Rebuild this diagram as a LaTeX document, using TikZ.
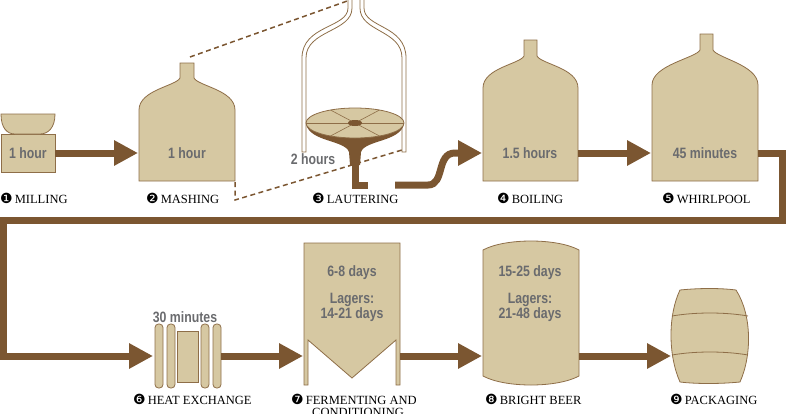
\documentclass[tikz,border=0pt]{standalone}
\usepackage{fontspec}
\setmainfont{Liberation Serif}
\newfontfamily\numfont{DejaVu Sans}
\newfontfamily\timefont[FakeStretch=0.82]{Liberation Sans}
\usetikzlibrary{arrows.meta}
\definecolor{tan}{HTML}{D6C8A2}
\definecolor{edge}{HTML}{8E6E48}
\definecolor{pipe}{HTML}{7B5631}
\definecolor{tgray}{HTML}{6A6B6E}
\tikzset{
  vessel/.style={fill=tan,draw=edge,line width=0.8pt},
  flow/.style={draw=pipe,line width=7pt,-{Triangle[length=24pt,width=24pt]}},
  pipeline/.style={draw=pipe,line width=7pt},
  dash line/.style={draw=pipe,line width=1.5pt,dash pattern=on 5pt off 3.5pt},
  timelbl/.style={text=tgray,font=\timefont\bfseries\fontsize{15}{15}\selectfont,align=center,inner sep=0pt},
  steplbl/.style={font=\fontsize{12.5}{12}\selectfont,anchor=west,inner sep=0pt},
}
\newcommand{\stepnum}[1]{{\numfont\fontsize{14}{11}\selectfont#1}}
\newcommand{\jugshape}[7]{% L R S T nl nr nb
  \path[vessel] (#1,181) -- (#1,#3) .. controls (#1,{#3-20}) and ({#5-4},{#7+8}) .. (#5,#7) -- (#5,#4) -- (#6,#4) -- (#6,#7) .. controls ({#6+4},{#7+8}) and (#2,{#3-20}) .. (#2,#3) -- (#2,181) -- cycle;}
\begin{document}
\begin{tikzpicture}[x=1pt,y=-1pt]
\useasboundingbox (0,0) rectangle (788,413);
% 1 milling
\path[vessel] (1,134) rectangle (55,172);
\path[vessel] (1,114) -- (55,114) .. controls (55,128) and (48,134) .. (40,134) -- (15,134) .. controls (7,134) and (1,128) .. (1,114) -- cycle;
\node[timelbl] (mill) at (28,153) {1 hour};
\coordinate (millR) at (55,153);
% 2 mashing
\jugshape{139}{235}{110}{63}{180}{194}{78}
\node[timelbl] (mash) at (187,153) {1 hour};
\coordinate (mashL) at (138,153);
\draw[dash line] (190,57) -- (350,0);
\draw[dash line] (235,182) -- (235,200) -- (402,150);
% 3 lautering
\draw[edge,line width=0.8pt] (348,0) -- (348,8) .. controls (348,28) and (302,25) .. (302,58) -- (302,152) -- (306,152) -- (306,58) .. controls (306,30) and (352,32) .. (352,8) -- (352,0);
\draw[edge,line width=0.8pt] (364,0) -- (364,8) .. controls (364,28) and (406,25) .. (406,58) -- (406,152) -- (402,152) -- (402,58) .. controls (402,30) and (360,32) .. (360,8) -- (360,0);
\fill[pipe] (306,124) .. controls (310,142) and (345,140) .. (349,152) -- (350,165) -- (360,165) -- (361,152) .. controls (365,140) and (400,142) .. (404,124) -- cycle;
\path[vessel] (355,123) ellipse [x radius=49, y radius=15];
\foreach \a in {0,60,120} \draw[edge,line width=0.6pt] ({355+49*cos(\a)},{123+15*sin(\a)}) -- ({355-49*cos(\a)},{123-15*sin(\a)});
\fill[pipe] (355,123) ellipse [x radius=7, y radius=3];
\draw[pipeline] (355,158) -- (355,185) -- (368,185);
\node[timelbl] (laut) at (313,159) {2 hours};
\coordinate (lautOut) at (395,185);
\coordinate (boilL) at (482,153);
\draw[flow] (lautOut) -- (428,185) .. controls (445,185) and (436,153) .. (455,153) -- (boilL);
% 4 boiling
\jugshape{483}{578}{88}{40}{524}{537}{56}
\node[timelbl] (boil) at (530,153) {1.5 hours};
% 5 whirlpool
\jugshape{652}{758}{85}{34}{700}{713}{50}
\node[timelbl] (whirl) at (705,153) {45 minutes};
\coordinate (boilR) at (578,153);
\coordinate (whirlL) at (651,153);
\coordinate (whirlR) at (758,153);
% 6 heat exchange
\foreach \x in {155,167,201,213} \path[vessel,rounded corners=3.5pt] (\x,324) rectangle ++(8,64);
\path[vessel] (177,331) rectangle (198,382);
\node[timelbl] (heat) at (185,317) {30 minutes};
\coordinate (heatL) at (153,356);
\coordinate (heatR) at (221,356);
\draw[flow] (whirlR) -- (782,153) -- (782,220) -- (3,220) -- (3,356) -- (heatL);
% 7 fermenting
\path[vessel] (304,243) -- (400,243) -- (400,385) -- (396,385) -- (396,340) -- (352,378) -- (308,340) -- (308,385) -- (304,385) -- cycle;
\node[timelbl] (ferm) at (352,294) {6-8 days\\[12pt]Lagers:\\14-21 days};
\coordinate (fermL) at (303,356);
\coordinate (fermR) at (400,356);
% 8 bright beer
\path[vessel] (483,250) .. controls (505,238) and (557,238) .. (579,250) -- (579,376) .. controls (557,388) and (505,388) .. (483,376) -- cycle;
\node[timelbl] (bright) at (530,294) {15-25 days\\[12pt]Lagers:\\21-48 days};
\coordinate (brightL) at (482,356);
\coordinate (brightR) at (579,356);
% 9 packaging
\path[vessel] (680,290) .. controls (700,288) and (720,288) .. (736,290) .. controls (752,315) and (752,355) .. (740,382) .. controls (720,384) and (696,384) .. (680,382) .. controls (668,355) and (668,315) .. (680,290) -- cycle;
\draw[edge,line width=0.8pt] (672,316) .. controls (695,312) and (725,312) .. (748,316);
\draw[edge,line width=0.8pt] (672,355) .. controls (695,351) and (725,351) .. (748,355);
\coordinate (kegL) at (671,356);
\draw[flow] (millR) -- (mashL);
\draw[flow] (boilR) -- (whirlL);
\draw[flow] (heatR) -- (fermL);
\draw[flow] (fermR) -- (brightL);
\draw[flow] (brightR) -- (kegL);
% labels
\node[steplbl] (l1) at (0,198) {\stepnum{❶}\,MILLING};
\node[steplbl] (l2) at (146,198) {\stepnum{❷}\,MASHING};
\node[steplbl] (l3) at (312,198) {\stepnum{❸}\,LAUTERING};
\node[steplbl] (l4) at (497,198) {\stepnum{❹}\,BOILING};
\node[steplbl] (l5) at (662,198) {\stepnum{❺}\,WHIRLPOOL};
\node[steplbl] (l6) at (133,399) {\stepnum{❻}\,HEAT EXCHANGE};
\node[steplbl] (l7) at (291,399) {\stepnum{❼}\,FERMENTING AND};
\node[steplbl] (l7b) at (312,412) {CONDITIONING};
\node[steplbl] (l8) at (485,399) {\stepnum{❽}\,BRIGHT BEER};
\node[steplbl] (l9) at (670,399) {\stepnum{❾}\,PACKAGING};
\end{tikzpicture}
\end{document}
